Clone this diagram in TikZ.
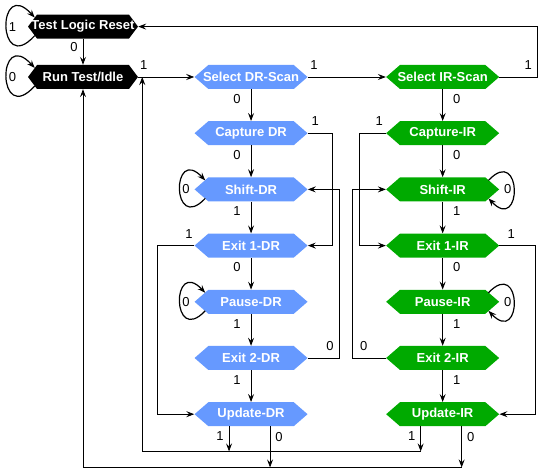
\documentclass[tikz,border=0pt]{standalone}
\usepackage{fontspec}
\setmainfont{Liberation Sans}
\usetikzlibrary{positioning,shapes.symbols,arrows.meta}
\definecolor{drblue}{RGB}{102,153,255}
\definecolor{irgreen}{RGB}{0,170,0}

\begin{document}
\begin{tikzpicture}[x=1pt, y=1pt,
  state/.style = {shape=signal, signal to=west and east, signal pointer angle=82,
    minimum height=24pt, minimum width=113pt, inner sep=0pt, text=white,
    font=\fontsize{13}{15}\selectfont\bfseries,
    execute at begin node={\hbox to 0pt\bgroup\hss},
    execute at end node={\hss\egroup}},
  ctl/.style = {state, fill=black, minimum width=110pt, signal pointer angle=106},
  dr/.style = {state, fill=drblue},
  ir/.style = {state, fill=irgreen},
  lbl/.style = {font=\fontsize{13}{15}\selectfont, inner sep=2pt},
  wire/.style = {line width=0.8pt},
  loopline/.style = {line width=1.2pt},
  node distance = 31.8pt,
  >={Stealth[length=8pt, width=6pt, inset=3pt]}
]
\useasboundingbox (0,0) rectangle (547,474);

% control states
\node[ctl] (rti) at (83,397) {Run Test/Idle};
\node[ctl, above=26pt of rti] (tlr) {Test Logic Reset};

% data register column
\node[dr, right=56pt of rti] (sdr) {Select DR-Scan};
\node[dr, below=of sdr] (cdr) {Capture DR};
\node[dr, below=of cdr] (shdr) {Shift-DR};
\node[dr, below=of shdr] (e1dr) {Exit 1-DR};
\node[dr, below=of e1dr] (pdr) {Pause-DR};
\node[dr, below=of pdr] (e2dr) {Exit 2-DR};
\node[dr, below=of e2dr] (udr) {Update-DR};

% instruction register column
\node[ir, right=78pt of sdr] (sir) {Select IR-Scan};
\node[ir, below=of sir] (cir) {Capture-IR};
\node[ir, below=of cir] (shir) {Shift-IR};
\node[ir, below=of shir] (e1ir) {Exit 1-IR};
\node[ir, below=of e1ir] (pir) {Pause-IR};
\node[ir, below=of pir] (e2ir) {Exit 2-IR};
\node[ir, below=of e2ir] (uir) {Update-IR};

\coordinate (j1) at ([xshift=4pt]rti.east);

% top row
\draw[wire,->] (tlr) -- node[lbl, pos=0.3, left=3pt] {0} (rti);
\draw[wire,->] (rti.east) -- node[lbl, pos=0.1, above=5pt] {1} (sdr.west);
\draw[wire,->] (sdr.east) -- node[lbl, pos=0.08, above=5pt] {1} (sir.west);
\draw[wire,->] (sir.east) -- node[lbl, pos=0.76, above=5pt] {1} ++(38,0) |- (tlr.east);

% DR column
\draw[wire,->] (sdr) -- node[lbl, pos=0.3, left=8pt] {0} (cdr);
\draw[wire,->] (cdr) -- node[lbl, pos=0.3, left=8pt] {0} (shdr);
\draw[wire,->] (shdr) -- node[lbl, pos=0.3, left=8pt] {1} (e1dr);
\draw[wire,->] (e1dr) -- node[lbl, pos=0.3, left=8pt] {0} (pdr);
\draw[wire,->] (pdr) -- node[lbl, pos=0.3, left=8pt] {1} (e2dr);
\draw[wire,->] (e2dr) -- node[lbl, pos=0.3, left=8pt] {1} (udr);
\draw[wire,->] (cdr.east) -- node[lbl, pos=0.3, above=5pt] {1} ++(25,0) |- (e1dr.east);
\draw[wire,->] (e2dr.east) -- node[lbl, pos=0.69, above=5pt] {0} ++(32,0) |- (shdr.east);
\draw[wire,->] (e1dr.west) -- node[lbl, pos=0.14, above=5pt] {1} ++(-37,0) |- (udr.west);

% IR column
\draw[wire,->] (sir) -- node[lbl, pos=0.3, right=8pt] {0} (cir);
\draw[wire,->] (cir) -- node[lbl, pos=0.3, right=8pt] {0} (shir);
\draw[wire,->] (shir) -- node[lbl, pos=0.3, right=8pt] {1} (e1ir);
\draw[wire,->] (e1ir) -- node[lbl, pos=0.3, right=8pt] {0} (pir);
\draw[wire,->] (pir) -- node[lbl, pos=0.3, right=8pt] {1} (e2ir);
\draw[wire,->] (e2ir) -- node[lbl, pos=0.3, right=8pt] {1} (uir);
\draw[wire,->] (cir.west) -- node[lbl, pos=0.25, above=5pt] {1} ++(-26,0) |- (e1ir.west);
\draw[wire,->] (e2ir.west) -- node[lbl, pos=0.67, above=5pt] {0} ++(-33,0) |- (shir.west);
\draw[wire,->] (e1ir.east) -- node[lbl, pos=0.33, above=5pt] {1} ++(36,0) |- (uir.east);

% update exits
\draw[wire,->] ([xshift=-22pt]udr.south) -- node[lbl, pos=0.4, left=3pt] {1} ++(0,-25);
\draw[wire,->] ([xshift=19pt]udr.south) -- node[lbl, pos=0.25, right=3pt] {0} ++(0,-41);
\draw[wire,->] ([xshift=-22pt]uir.south) -- node[lbl, pos=0.4, left=3pt] {1} ++(0,-25) coordinate (bus1);
\draw[wire,->] ([xshift=19pt]uir.south) -- node[lbl, pos=0.25, right=3pt] {0} ++(0,-41) coordinate (bus0);
\draw[wire,->] (bus1) -| (j1);
\draw[wire,->] (bus0) -| (rti.south);

% self loops
\draw[loopline,->] ([shift={(7,-9)}]tlr.west) .. controls +(-38,-42) and +(-38,42) .. node[lbl, right=0pt] {1} ([shift={(7,9)}]tlr.west);
\draw[loopline,->] ([shift={(7,-9)}]rti.west) .. controls +(-38,-42) and +(-38,42) .. node[lbl, right=0pt] {0} ([shift={(7,9)}]rti.west);
\draw[loopline,->] ([shift={(11,-9)}]shdr.west) .. controls +(-34,-36) and +(-34,36) .. node[lbl, right=0pt] {0} ([shift={(11,9)}]shdr.west);
\draw[loopline,->] ([shift={(11,-9)}]pdr.west) .. controls +(-34,-36) and +(-34,36) .. node[lbl, right=0pt] {0} ([shift={(11,9)}]pdr.west);
\draw[loopline,->] ([shift={(-11,9)}]shir.east) .. controls +(34,36) and +(34,-36) .. node[lbl, left=0pt] {0} ([shift={(-11,-9)}]shir.east);
\draw[loopline,->] ([shift={(-11,9)}]pir.east) .. controls +(34,36) and +(34,-36) .. node[lbl, left=0pt] {0} ([shift={(-11,-9)}]pir.east);
\end{tikzpicture}
\end{document}
